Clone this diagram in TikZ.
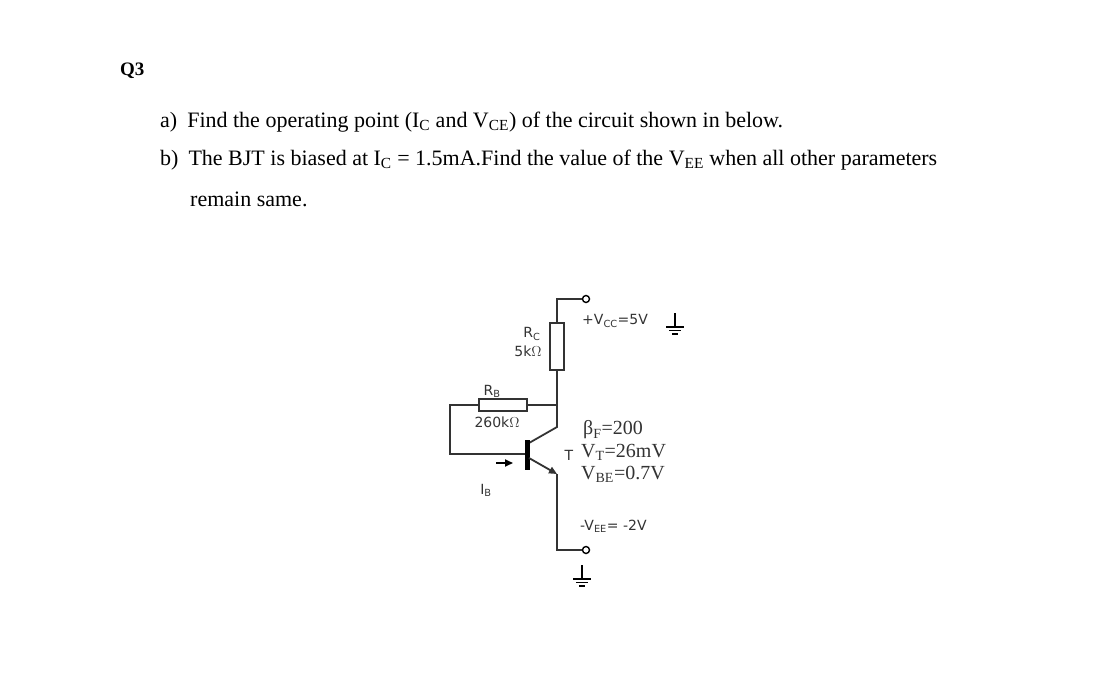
\documentclass[tikz,border=0pt]{standalone}
\usepackage{fontspec}
\setmainfont{Liberation Serif}
\newfontfamily\sansf{DejaVu Sans}
\usetikzlibrary{arrows.meta}
\begin{document}
\begin{tikzpicture}[x=1pt,y=-1pt,
  wire/.style={line width=1.8pt,black!80},
  res/.style={draw=black!80,line width=1.6pt,fill=white},
  term/.style={circle,draw,line width=1.4pt,inner sep=0pt,minimum size=7pt,fill=white},
  txt/.style={anchor=west,inner sep=0pt,font=\fontsize{22}{24}\selectfont},
  lab/.style={inner sep=0pt,font=\sansf\fontsize{14}{16}\selectfont,text=black!80},
  par/.style={anchor=west,inner sep=0pt,font=\fontsize{20}{22}\selectfont,text=black!80}]
\useasboundingbox (0,0) rectangle (1110,687);
\node[txt,font=\bfseries\fontsize{19}{22}\selectfont] (q) at (120,71) {Q3};
\node[txt] (a) at (160,122) {a)\hspace{10pt}Find the operating point (I\textsubscript{C} and V\textsubscript{CE}) of the circuit shown in below.};
\node[txt] (b) at (160,160) {b)\hspace{10pt}The BJT is biased at I\textsubscript{C} = 1.5mA.Find the value of the V\textsubscript{EE} when all other parameters};
\node[txt] (c) at (190,199) {remain same.};
% circuit
\coordinate (tl) at (557,299);
\node[term] (vcc) at (586,299) {};
\node[res,minimum width=14pt,minimum height=47pt,inner sep=0pt] (rc) at (557,346.5) {};
\coordinate (j) at (557,405);
\coordinate (c1) at (557,427);
\coordinate (bb) at (529,443);
\coordinate (be) at (529,458);
\coordinate (e1) at (557,474);
\coordinate (bl) at (557,550);
\node[term] (vee) at (586,550) {};
\node[res,minimum width=48pt,minimum height=12pt,inner sep=0pt] (rb) at (503,405) {};
\coordinate (lt) at (450,405);
\coordinate (lb) at (450,454);
\coordinate (bi) at (527,454);
\draw[wire] (vcc) -- (tl) -- (rc.north);
\draw[wire] (rc.south) -- (j) -- (c1) -- (bb);
\draw[wire] (j) -- (rb.east);
\draw[wire] (rb.west) -- (lt) -- (lb) -- (bi);
\draw[line width=5pt] (527,440) -- (527,470);
\draw[wire,-{Triangle[length=8pt,width=7pt]}] (be) -- (e1);
\draw[wire] (e1) -- (bl) -- (vee);
\draw[line width=1.8pt,-{Triangle[length=8pt,width=7pt]}] (496,463) -- (513,463);
% grounds
\draw[line width=1.4pt] (675,313) -- (675,327) (666,327) -- (684,327) (669,330.5) -- (681,330.5) (672,334) -- (678,334);
\draw[line width=1.4pt] (582,565) -- (582,579) (573,579) -- (591,579) (576,582.5) -- (588,582.5) (579,586) -- (585,586);
% labels
\node[lab] at (532,334) {R\textsubscript{C}};
\node[lab] at (528,351) {5k$\Omega$};
\node[lab] at (492,391) {R\textsubscript{B}};
\node[lab] at (497,422) {260k$\Omega$};
\node[lab] at (569,455) {T};
\node[lab] at (486,490) {I\textsubscript{B}};
\node[lab,anchor=west] at (582,321) {+V\textsubscript{CC}=5V};
\node[lab,anchor=west] at (580,526) {-V\textsubscript{EE}= -2V};
\node[par] at (583,430) {β\textsubscript{F}=200};
\node[par] at (581,452) {V\textsubscript{T}=26mV};
\node[par] at (581,474) {V\textsubscript{BE}=0.7V};
\end{tikzpicture}
\end{document}
